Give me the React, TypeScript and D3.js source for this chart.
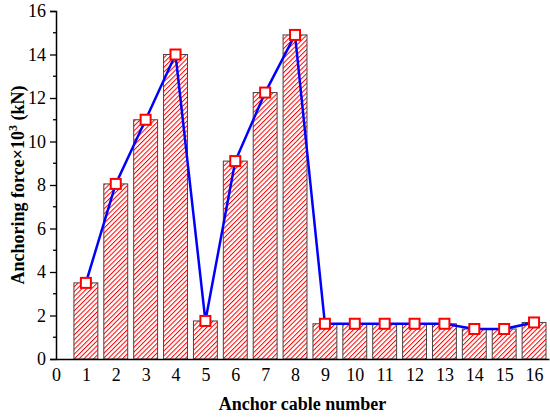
import { useEffect, useRef } from 'react'
import * as d3 from 'd3'

const CABLES = [1, 2, 3, 4, 5, 6, 7, 8, 9, 10, 11, 12, 13, 14, 15, 16]
const FORCES = [3.5, 8.05, 11.0, 14.0, 1.75, 9.1, 12.25, 14.9, 1.62, 1.62, 1.62, 1.62, 1.62, 1.38, 1.38, 1.68]
const X_TICKS = d3.range(0, 17)
const Y_TICKS = [0, 2, 4, 6, 8, 10, 12, 14, 16]
const Y_MINOR = d3.range(1, 16, 2)

const W = 550
const H = 417
const M = { top: 11, right: 1, bottom: 58, left: 56 }
const FONT = 'Liberation Serif'

export default function App() {
  const ref = useRef<SVGSVGElement>(null)

  useEffect(() => {
    const svg = d3.select(ref.current)
    svg.selectAll('*').remove()
    const iw = W - M.left - M.right
    const ih = H - M.top - M.bottom

    const x = d3.scaleLinear().domain([0, 16.5]).range([0, iw])
    const y = d3.scaleLinear().domain([0, 16]).range([ih, 0])
    const bw = x(0.8) - x(0)

    const defs = svg.append('defs')
    const pat = defs.append('pattern')
      .attr('id', 'hatch').attr('patternUnits', 'userSpaceOnUse')
      .attr('width', 3.4).attr('height', 3.4)
      .attr('patternTransform', 'rotate(45)')
    pat.append('rect').attr('width', 3.4).attr('height', 3.4).attr('fill', '#fff')
    pat.append('line').attr('x1', 0).attr('x2', 0).attr('y1', 0).attr('y2', 3.4)
      .attr('stroke', '#f00').attr('stroke-width', 2)

    const g = svg.append('g').attr('transform', `translate(${M.left},${M.top})`)

    // bars
    g.selectAll('rect.bar').data(CABLES).join('rect')
      .attr('class', 'bar')
      .attr('x', (d) => x(d) - bw / 2)
      .attr('y', (_, i) => y(FORCES[i]))
      .attr('width', bw)
      .attr('height', (_, i) => ih - y(FORCES[i]))
      .attr('fill', 'url(#hatch)')
      .attr('stroke', '#444').attr('stroke-width', 1)

    // line
    const line = d3.line<number>().x((d) => x(d)).y((_, i) => y(FORCES[i]))
    g.append('path').datum(CABLES).attr('d', line)
      .attr('fill', 'none').attr('stroke', '#0000ff').attr('stroke-width', 2.5)

    // markers
    const s = 10
    g.selectAll('rect.mk').data(CABLES).join('rect')
      .attr('class', 'mk')
      .attr('x', (d) => x(d) - s / 2)
      .attr('y', (_, i) => y(FORCES[i]) - s / 2)
      .attr('width', s).attr('height', s)
      .attr('fill', '#fff').attr('stroke', '#ff0000').attr('stroke-width', 2)

    // y axis
    const ya = g.append('g')
      .call(d3.axisLeft(y).tickValues(Y_TICKS).tickSize(6).tickPadding(4).tickFormat(d3.format('d')))
    ya.attr('font-family', FONT).attr('font-size', 18)
    ya.select('.domain').attr('stroke', '#000').attr('stroke-width', 1.5)
    ya.selectAll('.tick line').attr('stroke', '#000').attr('stroke-width', 1.3)
    ya.selectAll('text').attr('fill', '#000')
    g.append('g').selectAll('line').data(Y_MINOR).join('line')
      .attr('x1', -3).attr('x2', 0).attr('y1', (d) => y(d)).attr('y2', (d) => y(d))
      .attr('stroke', '#000').attr('stroke-width', 1.3)

    // x axis
    const xa = g.append('g').attr('transform', `translate(0,${ih})`)
      .call(d3.axisBottom(x).tickValues(X_TICKS).tickSize(0).tickPadding(9).tickFormat(d3.format('d')))
    xa.attr('font-family', FONT).attr('font-size', 18)
    xa.select('.domain').attr('stroke', '#000').attr('stroke-width', 1.5)
    xa.selectAll('text').attr('fill', '#000')

    // titles
    svg.append('text')
      .attr('x', M.left + x(8.25)).attr('y', 410)
      .attr('text-anchor', 'middle').attr('font-family', FONT)
      .attr('font-size', 18).attr('font-weight', 'bold')
      .text('Anchor cable number')

    const yt = svg.append('text')
      .attr('transform', `translate(24,${M.top + ih / 2}) rotate(-90)`)
      .attr('text-anchor', 'middle').attr('font-family', FONT)
      .attr('font-size', 18).attr('font-weight', 'bold')
    yt.append('tspan').text('Anchoring force×10')
    yt.append('tspan').attr('dy', -7).attr('font-size', 12).text('3')
    yt.append('tspan').attr('dy', 7).text(' (kN)')
  }, [])

  return (
    <div style={{ position: 'absolute', left: 0, top: 0, margin: 0 }}>
      <svg ref={ref} width={W} height={H} style={{ display: 'block', background: '#fff' }} />
    </div>
  )
}
